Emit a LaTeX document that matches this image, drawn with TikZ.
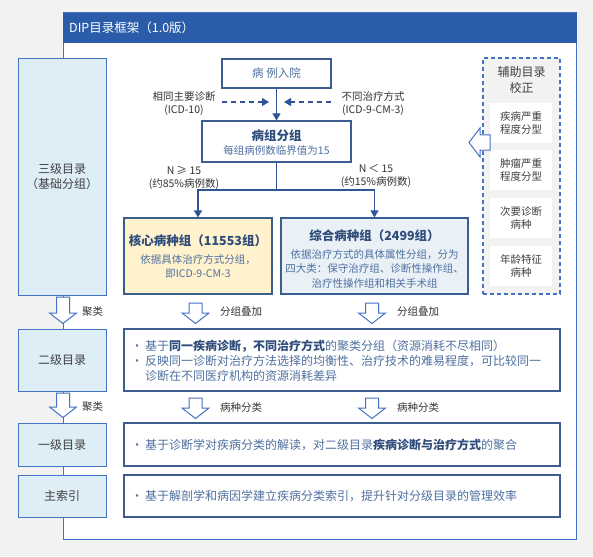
\documentclass[tikz,border=0pt]{standalone}
\usepackage{fontspec}
\setmainfont{Noto Sans CJK SC}
\usetikzlibrary{arrows.meta}
\definecolor{bgc}{HTML}{F2F2F2}
\definecolor{hdr}{HTML}{2B5CAA}
\definecolor{frm}{HTML}{4472C4}
\definecolor{bdr}{HTML}{3B5E8F}
\definecolor{lfill}{HTML}{DDEEF6}
\definecolor{txtb}{HTML}{4F70A0}
\definecolor{txtd}{HTML}{2F4C7A}
\definecolor{yfill}{HTML}{FFF2CC}
\definecolor{gfill}{HTML}{EAF1F6}
\definecolor{lab}{HTML}{333333}
\definecolor{ltxt}{HTML}{404040}
\definecolor{conn}{HTML}{2F5597}
\tikzset{
  fsA/.style={font=\fontsize{10.5}{13}\selectfont},
  fsB/.style={font=\fontsize{12}{15}\selectfont},
  leftbox/.style={draw=frm, fill=lfill, line width=1pt, inner sep=0pt, text=ltxt, fsB, align=center},
  cbox/.style={draw=bdr, fill=white, line width=1.2pt, inner sep=0pt},
  subbox/.style={fill=white, draw=none, inner sep=0pt, text=ltxt, fsA, align=center},
  lbl/.style={text=lab, fsA, align=center, inner sep=0pt},
  conarrow/.style={draw=conn, line width=1.2pt, -{Triangle[length=7pt,width=8pt]}},
  dasharrow/.style={conarrow, dash pattern=on 5pt off 4pt},
  harrow/.style={draw=frm, fill=white, line width=1pt, line join=miter},
  darr/.pic={\draw[harrow] (-6.5,0) -- (6.5,0) -- (6.5,#1) -- (13.5,#1) -- (0,#1+10.5) -- (-13.5,#1) -- (-6.5,#1) -- cycle;},
  bul/.style={anchor=west, text=txtb, fsB, align=left, inner sep=0pt},
}
\newcommand\bb[1]{{\bfseries\color{txtd}#1}}
\newcommand\bu{\makebox[14pt][l]{•}}
\begin{document}
\begin{tikzpicture}[x=1pt,y=-1pt]
\useasboundingbox (0,0) rectangle (593,556);
\fill[bgc] (0,0) rectangle (593,556);
% frame
\draw[frm, fill=white, line width=1pt] (63,13) rectangle (576,539);
\fill[hdr] (63,13) rectangle (577,43);
\node[anchor=west, text=white, font=\fontsize{12.5}{15}\selectfont, inner sep=0pt] (title) at (69,28) {DIP目录框架（1.0版）};
% left column
\node[leftbox, minimum width=88pt, minimum height=236pt] (L3) at (62,177) {三级目录\\（基础分组）};
\node[leftbox, minimum width=88pt, minimum height=62pt] (L2) at (62,360) {二级目录};
\node[leftbox, minimum width=88pt, minimum height=43pt] (L1) at (62,444.5) {一级目录};
\node[leftbox, minimum width=88pt, minimum height=42pt] (L0) at (62,496) {主索引};
\pic at (63,297) {darr=16};
\pic at (63,393) {darr=14};
\node[lbl, anchor=west] (jl1) at (82,312) {聚类};
\node[lbl, anchor=west] (jl2) at (82,407) {聚类};
% top flow
\node[draw=bdr, fill=white, line width=1.2pt, minimum width=109pt, minimum height=29pt, inner sep=0pt, text=txtb, font=\fontsize{11.5}{14}\selectfont] (rk) at (276.5,73.5) {病 例入院};
\node[cbox, minimum width=149pt, minimum height=41pt] (zf) at (276.5,141.5) {};
\node[text=txtd, font=\fontsize{12.5}{15}\selectfont\bfseries, inner sep=0pt] (zft) at (276.5,136) {病组分组};
\node[text=txtb, fsA, inner sep=0pt] (zfs) at (276.5,150.5) {每组病例数临界值为15};
\draw[conarrow] (rk.south) -- (zf.north);
\coordinate (dl) at (222,102);
\coordinate (dle) at (269,102);
\coordinate (dr) at (331,102);
\coordinate (dre) at (284,102);
\draw[dasharrow] (dl) -- (dle);
\draw[dasharrow] (dr) -- (dre);
\node[lbl] (l1) at (184,103.5) {相同主要诊断\\(ICD-10)};
\node[lbl] (l2) at (373,104) {不同治疗方式\\(ICD-9-CM-3)};
% branches
\node[cbox, fill=yfill, minimum width=148pt, minimum height=76pt] (core) at (198,256) {};
\node[cbox, fill=gfill, minimum width=187pt, minimum height=76pt] (zh) at (374.5,256) {};
\coordinate (split) at (276.5,190);
\draw[conn, line width=1.2pt] (zf.south) -- (split);
\draw[conarrow] (split) -| (core.north);
\draw[conarrow] (split) -| (zh.north);
\node[lbl] (n1) at (184,177.5) {N ≥ 15\\(约85\%病例数)};
\node[lbl] (n2) at (376,176.5) {N ＜ 15\\(约15\%病例数)};
\node[text=txtd, font=\fontsize{12.5}{15}\selectfont\bfseries, inner sep=0pt] (coret) at (198,241) {核心病种组（11553组）};
\node[text=txtb, align=center, inner sep=0pt, font=\fontsize{10.5}{14}\selectfont] (cores) at (198,266) {依据具体治疗方式分组，\\即ICD-9-CM-3};
\node[text=txtd, font=\fontsize{12.5}{15}\selectfont\bfseries, inner sep=0pt] (zht) at (374.5,235.5) {综合病种组（2499组）};
\node[text=txtb, align=center, inner sep=0pt, font=\fontsize{10.5}{14.5}\selectfont] (zhs) at (374.5,268.5) {依据治疗方式的具体属性分组，分为\\四大类：保守治疗组、诊断性操作组、\\治疗性操作组和相关手术组};
% aux
\node[draw=frm, fill=bgc, line width=1.2pt, dash pattern=on 4pt off 3pt, minimum width=77pt, minimum height=236pt, inner sep=0pt] (aux) at (521.5,176) {};
\node[text=ltxt, align=center, inner sep=0pt, font=\fontsize{12}{16}\selectfont] (auxt) at (521.5,80) {辅助目录\\校正};
\node[subbox, minimum width=62pt, minimum height=40pt] (a1) at (521,123) {疾病严重\\程度分型};
\node[subbox, minimum width=62pt, minimum height=40pt] (a2) at (521,170) {肿瘤严重\\程度分型};
\node[subbox, minimum width=62pt, minimum height=40pt] (a3) at (521,218) {次要诊断\\病种};
\node[subbox, minimum width=62pt, minimum height=40pt] (a4) at (521,266) {年龄特征\\病种};
\draw[harrow] (490,135) -- (480,135) -- (480,128) -- (469,142.5) -- (480,157) -- (480,150) -- (490,150) -- cycle;
% middle arrows
\pic at (195.5,303) {darr=10};
\pic at (372,303) {darr=10};
\node[lbl, anchor=west] (fz1) at (220,312) {分组叠加};
\node[lbl, anchor=west] (fz2) at (397,312) {分组叠加};
\pic at (195.5,398) {darr=10};
\pic at (372,398) {darr=10};
\node[lbl, anchor=west] (bz1) at (220,408) {病种分类};
\node[lbl, anchor=west] (bz2) at (397,408) {病种分类};
% content boxes
\node[cbox, minimum width=436pt, minimum height=62pt] (C2) at (342,360) {};
\node[cbox, minimum width=436pt, minimum height=43pt] (C1) at (342,444.5) {};
\node[cbox, minimum width=436pt, minimum height=42pt] (C0) at (342,496) {};
\node[bul] (t2) at (131,361) {\bu 基于\bb{同一疾病诊断，不同治疗方式}的聚类分组（资源消耗不尽相同）\\\bu 反映同一诊断对治疗方法选择的均衡性、治疗技术的难易程度，可比较同一\\\hspace*{14pt}诊断在不同医疗机构的资源消耗差异};
\node[bul] (t1) at (131,444.5) {\bu 基于诊断学对疾病分类的解读，对二级目录\bb{疾病诊断与治疗方式}的聚合};
\node[bul] (t0) at (131,496.5) {\bu 基于解剖学和病因学建立疾病分类索引，提升针对分级目录的管理效率};
\end{tikzpicture}
\end{document}
